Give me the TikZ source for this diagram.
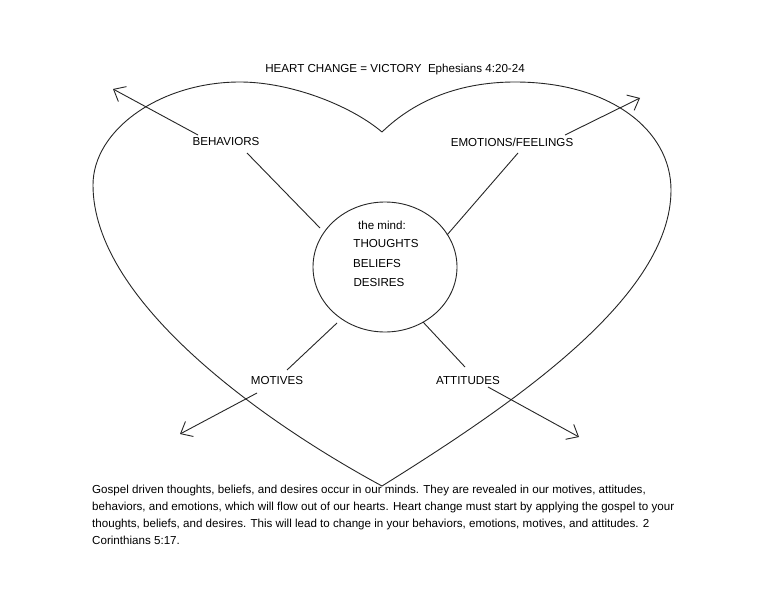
\documentclass[tikz,border=0pt]{standalone}
\usepackage{fontspec}
\setmainfont{Liberation Sans}
\usetikzlibrary{arrows.meta,shapes.geometric}
\begin{document}
\begin{tikzpicture}[x=1pt,y=-1pt,
  lbl/.style={inner sep=0pt, font=\fontsize{11.6}{14}\selectfont, text=black},
  ln/.style={line width=0.9pt, draw=black!85},
  arr/.style={ln, -{Straight Barb[length=10pt,width=17pt,line width=0.9pt]}}]
\useasboundingbox[fill=white] (0,0) rectangle (768,594);
% heart
\draw[ln] (382,132) .. controls (415,100) and (460,82) .. (515,82)
  .. controls (610,82) and (671,130) .. (671,190)
  .. controls (671,295) and (520,400) .. (382,486)
  .. controls (260,420) and (93,300) .. (93,185)
  .. controls (93,130) and (160,82) .. (240,82)
  .. controls (290,82) and (350,105) .. (382,132);
% title
\node[lbl] (title) at (395,70) {HEART CHANGE = VICTORY\ \ Ephesians 4:20-24};
% mind
\node[ellipse, ln, minimum width=144pt, minimum height=130pt] (mind) at (385,267) {};
\node[lbl] (m0) at (382,225) {the mind:};
\node[lbl] (m1) at (386,244) {THOUGHTS};
\node[lbl] (m2) at (377,264) {BELIEFS};
\node[lbl] (m3) at (379,283) {DESIRES};
% labels
\node[lbl] (beh) at (226,142) {BEHAVIORS};
\node[lbl] (emo) at (512,142) {EMOTIONS/FEELINGS};
\node[lbl] (mot) at (277,381) {MOTIVES};
\node[lbl] (att) at (468,381) {ATTITUDES};
% connector end points
\coordinate (behA) at (247,153); \coordinate (behB) at (320,228);
\coordinate (behC) at (198,135); \coordinate (behD) at (113,89);
\coordinate (emoA) at (518,153); \coordinate (emoB) at (447,235);
\coordinate (emoC) at (565,135); \coordinate (emoD) at (640,98);
\coordinate (motA) at (287,370); \coordinate (motB) at (337,323);
\coordinate (motC) at (257,393); \coordinate (motD) at (180,434);
\coordinate (attA) at (465,367); \coordinate (attB) at (423,322);
\coordinate (attC) at (488,387); \coordinate (attD) at (579,437);
\draw[ln] (behA) -- (behB);
\draw[arr] (behC) -- (behD);
\draw[ln] (emoA) -- (emoB);
\draw[arr] (emoC) -- (emoD);
\draw[ln] (motA) -- (motB);
\draw[arr] (motC) -- (motD);
\draw[ln] (attA) -- (attB);
\draw[arr] (attC) -- (attD);
% paragraph
\node[lbl, anchor=north west, align=left, font=\fontsize{11.6}{17}\selectfont] (para) at (92,484.5)
{Gospel driven thoughts, beliefs, and desires occur in our minds. They are revealed in our motives, attitudes,\\
behaviors, and emotions, which will flow out of our hearts. Heart change must start by applying the gospel to your\\
thoughts, beliefs, and desires. This will lead to change in your behaviors, emotions, motives, and attitudes. 2\\
Corinthians 5:17.};
\end{tikzpicture}
\end{document}
